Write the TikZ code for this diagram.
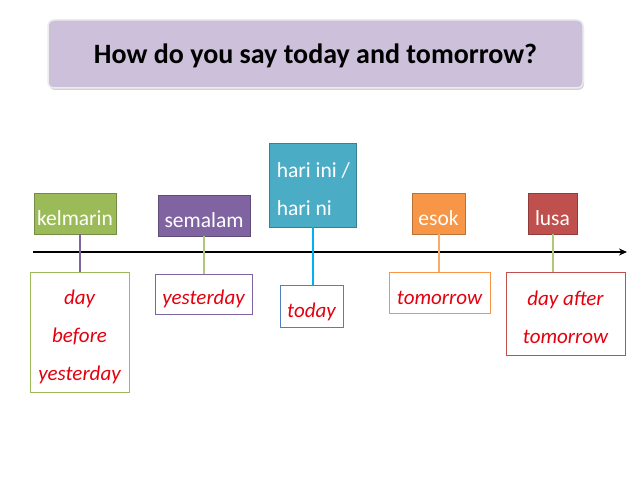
\documentclass[tikz,border=0pt]{standalone}
\usepackage{fontspec}
\setmainfont{Carlito}
\usetikzlibrary{shadows,arrows.meta}
\definecolor{titlefill}{HTML}{CCC0DA}
\definecolor{cgreen}{HTML}{9BBB59}
\definecolor{cpurple}{HTML}{8064A2}
\definecolor{cteal}{HTML}{4BACC6}
\definecolor{cblue}{HTML}{4F81BD}
\definecolor{csky}{HTML}{00B0F0}
\definecolor{corange}{HTML}{F79646}
\definecolor{cred}{HTML}{C0504D}
\definecolor{tred}{HTML}{E3000F}
\tikzset{
  term/.style={rectangle, draw=#1!75!black, fill=#1, line width=0.8pt, inner sep=0pt},
  termtext/.style={text=white, font=\fontsize{21.5}{38}\selectfont, inner sep=0pt},
  meaning/.style={rectangle, draw=#1, line width=0.9pt, fill=white, inner sep=0pt},
  meaningtext/.style={text=tred, font=\fontsize{21}{38}\selectfont\itshape, inner sep=0pt, align=center},
  stem/.style={line width=2pt, draw=#1}
}
\begin{document}
\begin{tikzpicture}[x=1pt,y=-1pt]
\useasboundingbox (0,0) rectangle (638,478);
\fill[white] (0,0) rectangle (638,478);
% title
\node[rectangle, rounded corners=6pt, fill=titlefill, draw=white!85!gray, line width=1.5pt,
  drop shadow={shadow xshift=1pt, shadow yshift=-2pt, opacity=0.35},
  minimum width=535pt, minimum height=68pt] (title) at (315.5,54) {};
\node[font=\fontsize{28}{32}\selectfont\bfseries, inner sep=0pt] (titletext) at ([yshift=-2pt]title.center) {How do you say today and tomorrow?};
% timeline
\coordinate (tl0) at (33,252);
\coordinate (tl1) at (627,252);
\draw[line width=1.6pt, -{Stealth[length=8pt,width=7pt]}] (tl0) -- (tl1);
% upper terms
\node[term=cgreen, minimum width=82pt, minimum height=41pt] (kel) at (75,213.5) {};
\node[termtext] (kelt) at ([yshift=-5pt]kel.center) {kelmarin};
\node[term=cpurple, minimum width=92pt, minimum height=41pt] (sem) at (204,215.5) {};
\node[termtext] (semt) at ([yshift=-5pt]sem.center) {semalam};
\node[term=cteal, minimum width=87pt, minimum height=84pt] (hari) at (312.5,185) {};
\node[termtext, align=left, anchor=west] (harit) at ([xshift=8pt,yshift=-4pt]hari.west) {hari ini /\\hari ni};
\node[term=corange, minimum width=53pt, minimum height=41pt] (esok) at (438.5,213.5) {};
\node[termtext] (esokt) at ([yshift=-5pt]esok.center) {esok};
\node[term=cred, minimum width=49pt, minimum height=41pt] (lusa) at (552.5,213.5) {};
\node[termtext] (lusat) at ([yshift=-5pt]lusa.center) {lusa};
% lower meanings
\node[meaning=cgreen, minimum width=99pt, minimum height=120pt] (m1) at (79.5,332) {};
\node[meaningtext] (m1t) at ([yshift=-5pt]m1.center) {day\\before\\yesterday};
\node[meaning=cpurple, minimum width=97pt, minimum height=40pt] (m2) at (203.5,294) {};
\node[meaningtext] (m2t) at ([yshift=-5pt]m2.center) {yesterday};
\node[meaning=cblue, minimum width=63pt, minimum height=42pt] (m3) at (311.5,306) {};
\node[meaningtext] (m3t) at ([yshift=-6pt]m3.center) {today};
\node[meaning=corange, minimum width=101pt, minimum height=41pt] (m4) at (439.5,292.5) {};
\node[meaningtext] (m4t) at ([yshift=-5pt]m4.center) {tomorrow};
\node[meaning=cred, minimum width=119pt, minimum height=83pt] (m5) at (565.5,313.5) {};
\node[meaningtext] (m5t) at ([yshift=-4pt]m5.center) {day after\\tomorrow};
% stems
\draw[stem=cpurple] (kel.south -| m1.north) -- (m1.north);
\draw[stem=cgreen!80!white] (m2.north |- sem.south) -- (m2.north);
\draw[stem=csky] (hari.south) -- (hari.south |- m3.north);
\draw[stem=corange!80!white] (esok.south) -- (esok.south |- m4.north);
\draw[stem=cgreen!80!white] (lusa.south) -- (lusa.south |- m5.north);
\end{tikzpicture}
\end{document}
